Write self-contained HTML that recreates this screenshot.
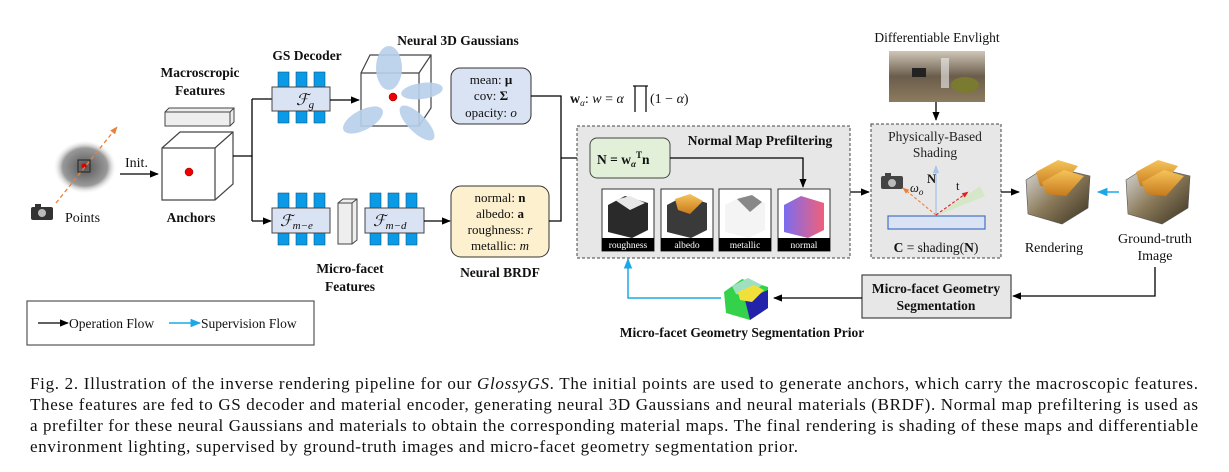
<!DOCTYPE html>
<html><head><meta charset="utf-8"><style>
html,body{margin:0;padding:0;background:#fff;}
svg{display:block;}
text{font-family:"Liberation Serif",serif;fill:#111;}
</style></head><body>
<svg width="1229" height="472" viewBox="0 0 1229 472" xmlns="http://www.w3.org/2000/svg">
<defs>
<marker id="ab" viewBox="0 0 10 10" refX="9" refY="5" markerWidth="7" markerHeight="7" orient="auto"><path d="M0,1 L10,5 L0,9 z" fill="#000"/></marker>
<marker id="abl" viewBox="0 0 10 10" refX="9" refY="5" markerWidth="7" markerHeight="7" orient="auto"><path d="M0,1 L10,5 L0,9 z" fill="#1ba8e8"/></marker>
<marker id="ao" viewBox="0 0 10 10" refX="9" refY="5" markerWidth="6" markerHeight="6" orient="auto"><path d="M0,1 L10,5 L0,9 z" fill="#e8823a"/></marker>
<marker id="ar" viewBox="0 0 10 10" refX="9" refY="5" markerWidth="6" markerHeight="6" orient="auto"><path d="M0,1 L10,5 L0,9 z" fill="#e02020"/></marker>
<marker id="alb" viewBox="0 0 10 10" refX="9" refY="5" markerWidth="6" markerHeight="6" orient="auto"><path d="M0,1 L10,5 L0,9 z" fill="#a9c4e8"/></marker>
<radialGradient id="cloud"><stop offset="0" stop-color="#555"/><stop offset="0.7" stop-color="#999"/><stop offset="1" stop-color="#fff" stop-opacity="0"/></radialGradient>
<linearGradient id="metal" x1="0" y1="0" x2="1" y2="1"><stop offset="0" stop-color="#ddd"/><stop offset="0.5" stop-color="#8a7a5a"/><stop offset="1" stop-color="#3a3020"/></linearGradient>
<linearGradient id="toast" x1="0" y1="0" x2="0" y2="1"><stop offset="0" stop-color="#f6c45a"/><stop offset="1" stop-color="#c77a1c"/></linearGradient>
<linearGradient id="env" x1="0" y1="0" x2="0" y2="1"><stop offset="0" stop-color="#cfc6b8"/><stop offset="0.5" stop-color="#6b5d4b"/><stop offset="1" stop-color="#8c7b5f"/></linearGradient>
<linearGradient id="nrm" x1="0" y1="0" x2="1" y2="0"><stop offset="0" stop-color="#7b6cf0"/><stop offset="1" stop-color="#f0607a"/></linearGradient>
</defs>

<!-- Points -->
<ellipse cx="85" cy="167" rx="32" ry="27" fill="url(#cloud)"/>
<rect x="78" y="160" width="12" height="12" fill="none" stroke="#222" stroke-width="1"/>
<circle cx="84" cy="166" r="2.5" fill="#d00"/>
<line x1="56" y1="203" x2="117" y2="127" stroke="#e8823a" stroke-width="1.3" stroke-dasharray="4,3" marker-end="url(#ao)"/>
<rect x="31" y="207" width="22" height="13" rx="2" fill="#333"/>
<rect x="35" y="204" width="6" height="4" fill="#333"/>
<circle cx="42" cy="213" r="4" fill="#bbb"/>
<text x="65" y="222" font-size="14">Points</text>
<text x="125" y="167" font-size="14">Init.</text>
<line x1="120" y1="174" x2="158" y2="174" stroke="#000" stroke-width="1.3" marker-end="url(#ab)"/>

<!-- Anchors -->
<text x="200" y="77" font-size="13.5" font-weight="bold" text-anchor="middle">Macroscropic</text>
<text x="200" y="95" font-size="13.5" font-weight="bold" text-anchor="middle">Features</text>
<polygon points="165,112 169,108 234,108 234,122 230,126 165,126" fill="#eee" stroke="#444"/>
<line x1="165" y1="112" x2="230" y2="112" stroke="#444"/><line x1="230" y1="112" x2="234" y2="108" stroke="#444"/><line x1="230" y1="112" x2="230" y2="126" stroke="#444"/>
<polygon points="162,148 180,132 233,132 233,184 215,200 162,200" fill="#fff" stroke="#444" stroke-width="1.2"/>
<polyline points="162,148 215,148 233,132" fill="none" stroke="#444" stroke-width="1.2"/>
<line x1="215" y1="148" x2="215" y2="200" stroke="#444" stroke-width="1.2"/>
<circle cx="189" cy="172" r="4" fill="#e00" stroke="#800" stroke-width="0.5"/>
<text x="191" y="222" font-size="13.5" font-weight="bold" text-anchor="middle">Anchors</text>

<!-- branch -->
<polyline points="233,156 252,156" fill="none" stroke="#000" stroke-width="1.3"/>
<polyline points="252,99 252,221" fill="none" stroke="#000" stroke-width="1.3"/>
<line x1="252" y1="99" x2="272" y2="99" stroke="#000" stroke-width="1.3"/>
<line x1="252" y1="221" x2="271" y2="221" stroke="#000" stroke-width="1.3" marker-end="url(#ab)"/>

<!-- GS decoder -->
<text x="307" y="60" font-size="13.5" font-weight="bold" text-anchor="middle">GS Decoder</text>
<g fill="#0a9ae6" stroke="#0b5a8a" stroke-width="0.6">
<rect x="278" y="72" width="11" height="51"/><rect x="296" y="72" width="11" height="51"/><rect x="314" y="72" width="11" height="51"/>
<rect x="278" y="193" width="11" height="52"/><rect x="296" y="193" width="11" height="52"/><rect x="314" y="193" width="11" height="52"/>
<rect x="370" y="193" width="11" height="52"/><rect x="388" y="193" width="11" height="52"/><rect x="406" y="193" width="11" height="52"/>
</g>
<rect x="272" y="87" width="58" height="24" fill="#dae3f3" stroke="#444"/>
<text x="296" y="105" font-size="16" font-style="italic">ℱ<tspan font-size="11" dy="3">g</tspan></text>
<rect x="272" y="208" width="58" height="25" fill="#dae3f3" stroke="#444"/>
<text x="280" y="226" font-size="16" font-style="italic">ℱ<tspan font-size="11" dy="3">m−e</tspan></text>
<polygon points="338,203 343,199 357,199 357,240 352,244 338,244" fill="#eee" stroke="#444"/>
<polyline points="338,203 352,203 357,199" fill="none" stroke="#444"/><line x1="352" y1="203" x2="352" y2="244" stroke="#444"/>
<rect x="365" y="208" width="59" height="25" fill="#dae3f3" stroke="#444"/>
<text x="373" y="226" font-size="16" font-style="italic">ℱ<tspan font-size="11" dy="3">m−d</tspan></text>
<text x="350" y="273" font-size="13.5" font-weight="bold" text-anchor="middle">Micro-facet</text>
<text x="350" y="291" font-size="13.5" font-weight="bold" text-anchor="middle">Features</text>
<line x1="330" y1="100" x2="359" y2="100" stroke="#000" stroke-width="1.3" marker-end="url(#ab)"/>
<line x1="424" y1="221" x2="450" y2="221" stroke="#000" stroke-width="1.3" marker-end="url(#ab)"/>

<!-- Gaussians cube -->
<text x="458" y="45" font-size="13.5" font-weight="bold" text-anchor="middle">Neural 3D Gaussians</text>
<polygon points="361,73 370,55 431,55 431,108 419,126 361,126" fill="#fff" stroke="#444" stroke-width="1.2"/>
<polyline points="361,73 419,73 431,55" fill="none" stroke="#444" stroke-width="1.2"/>
<line x1="419" y1="73" x2="419" y2="126" stroke="#444" stroke-width="1.2"/>
<g fill="#b7d0ea" opacity="0.9">
<ellipse cx="389" cy="68" rx="13" ry="22"/>
<ellipse cx="422" cy="91" rx="21" ry="8" transform="rotate(-8 422 91)"/>
<ellipse cx="363" cy="120" rx="22" ry="10" transform="rotate(-28 363 120)"/>
<ellipse cx="417" cy="123" rx="23" ry="9" transform="rotate(45 417 123)"/>
</g>
<circle cx="393" cy="97" r="4" fill="#e00" stroke="#800" stroke-width="0.5"/>

<!-- attr boxes -->
<rect x="451" y="68" width="80" height="56" rx="9" fill="#dae3f3" stroke="#333"/>
<text x="491" y="84" font-size="13" text-anchor="middle">mean: <tspan font-weight="bold">μ</tspan></text>
<text x="491" y="100" font-size="13" text-anchor="middle">cov: <tspan font-weight="bold">Σ</tspan></text>
<text x="491" y="117" font-size="13" text-anchor="middle">opacity: <tspan font-style="italic">o</tspan></text>
<rect x="451" y="186" width="98" height="71" rx="10" fill="#fdf0cf" stroke="#333"/>
<text x="500" y="202" font-size="13" text-anchor="middle">normal: <tspan font-weight="bold">n</tspan></text>
<text x="500" y="218" font-size="13" text-anchor="middle">albedo: <tspan font-weight="bold">a</tspan></text>
<text x="500" y="234" font-size="13" text-anchor="middle">roughness: <tspan font-style="italic">r</tspan></text>
<text x="500" y="250" font-size="13" text-anchor="middle">metallic: <tspan font-style="italic">m</tspan></text>
<text x="500" y="277" font-size="13.5" font-weight="bold" text-anchor="middle">Neural BRDF</text>
<polyline points="531,96 561,96 561,221 549,221" fill="none" stroke="#000" stroke-width="1.3"/>
<line x1="561" y1="158" x2="589" y2="158" stroke="#000" stroke-width="1.3" marker-end="url(#ab)"/>
<text x="570" y="103" font-size="14"><tspan font-weight="bold">w</tspan><tspan font-size="9" dy="3" font-style="italic">α</tspan><tspan dy="-3">: </tspan><tspan font-style="italic">w</tspan> = <tspan font-style="italic">α</tspan></text>
<path d="M635,86 L635,112 M646,86 L646,112 M633,86 L648,86" stroke="#111" stroke-width="1.3" fill="none"/>
<text x="650" y="103" font-size="14">(1 − <tspan font-style="italic">α</tspan>)</text>

<!-- Normal map prefiltering -->
<rect x="577" y="126" width="273" height="132" fill="#e7e7e7" stroke="#444" stroke-dasharray="3,2"/>
<rect x="590" y="138" width="80" height="40" rx="7" fill="#e2f0d9" stroke="#444"/>
<text x="597" y="164" font-size="13.5" font-weight="bold">N = w<tspan font-size="9" dy="3" font-style="italic">α</tspan><tspan font-size="9" dy="-9">T</tspan><tspan dy="6">n</tspan></text>
<text x="760" y="145" font-size="13.5" font-weight="bold" text-anchor="middle">Normal Map Prefiltering</text>
<polyline points="670,158 803,158 803,187" fill="none" stroke="#000" stroke-width="1.3" marker-end="url(#ab)"/>
<g stroke="#333">
<rect x="602" y="189" width="52" height="62" fill="#fff"/>
<rect x="661" y="189" width="52" height="62" fill="#fff"/>
<rect x="719" y="189" width="52" height="62" fill="#fff"/>
<rect x="778" y="189" width="52" height="62" fill="#fff"/>
</g>
<polygon points="608,205 625,196 648,203 648,230 632,238 608,232" fill="#2a2a2a"/>
<polygon points="615,200 630,196 645,203 630,210" fill="#e8e8e8"/>
<polygon points="667,205 684,196 707,203 707,230 691,238 667,232" fill="#3a3a3a"/>
<polygon points="675,199 690,194 703,201 690,214 678,210" fill="url(#toast)"/>
<polygon points="725,205 742,196 765,203 765,230 749,238 725,232" fill="#f4f4f4"/>
<polygon points="737,199 752,195 762,202 750,212" fill="#888"/>
<polygon points="784,205 801,196 824,203 824,230 808,238 784,232" fill="url(#nrm)"/>
<g fill="#000"><rect x="602" y="238" width="52" height="13"/><rect x="661" y="238" width="52" height="13"/><rect x="719" y="238" width="52" height="13"/><rect x="778" y="238" width="52" height="13"/></g>
<g font-size="9.5" text-anchor="middle"><text x="628" y="248" style="fill:#fff">roughness</text><text x="687" y="248" style="fill:#fff">albedo</text><text x="745" y="248" style="fill:#fff">metallic</text><text x="804" y="248" style="fill:#fff">normal</text></g>
<line x1="850" y1="192" x2="869" y2="192" stroke="#000" stroke-width="1.3" marker-end="url(#ab)"/>

<!-- Env light -->
<text x="937" y="42" font-size="13.5" text-anchor="middle">Differentiable Envlight</text>
<rect x="889" y="51" width="96" height="51" fill="url(#env)"/>
<rect x="912" y="68" width="14" height="9" fill="#222"/><ellipse cx="965" cy="85" rx="14" ry="8" fill="#7a7a30"/><rect x="941" y="58" width="8" height="30" fill="#eee" opacity="0.6"/>
<line x1="936" y1="102" x2="936" y2="120" stroke="#000" stroke-width="1.3" marker-end="url(#ab)"/>

<!-- PBS -->
<rect x="871" y="124" width="130" height="134" fill="#e7e7e7" stroke="#444" stroke-dasharray="3,2"/>
<text x="935" y="141" font-size="13.5" text-anchor="middle" style="fill:#222">Physically-Based</text>
<text x="935" y="157" font-size="13.5" text-anchor="middle" style="fill:#222">Shading</text>
<polygon points="936,216 980,186 985,196" fill="#cfe8c0" opacity="0.8"/>
<line x1="936" y1="215" x2="936" y2="166" stroke="#a9c4e8" stroke-width="1.3" marker-end="url(#alb)"/>
<line x1="936" y1="215" x2="903" y2="188" stroke="#e8823a" stroke-width="1.1" stroke-dasharray="3,2" marker-end="url(#ao)"/>
<line x1="936" y1="215" x2="968" y2="192" stroke="#e02020" stroke-width="1.1" stroke-dasharray="3,2" marker-end="url(#ar)"/>
<rect x="881" y="176" width="22" height="13" rx="2" fill="#444"/><rect x="885" y="173" width="6" height="4" fill="#444"/><circle cx="892" cy="183" r="4" fill="#bbb"/>
<text x="910" y="192" font-size="12.5" font-style="italic">ω<tspan font-size="9" dy="3">o</tspan></text>
<text x="927" y="183" font-size="12.5" font-weight="bold">N</text>
<text x="956" y="190" font-size="12.5">t</text>
<rect x="888" y="216" width="97" height="13" fill="#dae3f3" stroke="#4472c4" stroke-width="1.2"/>
<text x="936" y="252" font-size="13.5" text-anchor="middle"><tspan font-weight="bold">C</tspan> = shading(<tspan font-weight="bold">N</tspan>)</text>
<line x1="1001" y1="192" x2="1019" y2="192" stroke="#000" stroke-width="1.3" marker-end="url(#ab)"/>

<!-- Toasters -->
<g>
<polygon points="1026,180 1048,166 1090,176 1088,208 1062,224 1028,214" fill="url(#metal)" stroke="#555" stroke-width="0.6"/>
<polygon points="1036,172 1058,160 1078,166 1060,188 1040,186" fill="url(#toast)"/>
<polygon points="1042,182 1064,170 1084,176 1066,196 1046,194" fill="url(#toast)"/>
</g>
<g transform="translate(100,0)">
<polygon points="1026,180 1048,166 1090,176 1088,208 1062,224 1028,214" fill="url(#metal)" stroke="#555" stroke-width="0.6"/>
<polygon points="1036,172 1058,160 1078,166 1060,188 1040,186" fill="url(#toast)"/>
<polygon points="1042,182 1064,170 1084,176 1066,196 1046,194" fill="url(#toast)"/>
</g>
<line x1="1119" y1="192" x2="1098" y2="192" stroke="#1ba8e8" stroke-width="1.5" marker-end="url(#abl)"/>
<text x="1054" y="252" font-size="14" text-anchor="middle">Rendering</text>
<text x="1155" y="243" font-size="14" text-anchor="middle">Ground-truth</text>
<text x="1155" y="260" font-size="14" text-anchor="middle">Image</text>
<polyline points="1155,267 1155,296 1013,296" fill="none" stroke="#000" stroke-width="1.3" marker-end="url(#ab)"/>

<!-- segmentation -->
<rect x="862" y="275" width="149" height="43" fill="#e7e7e7" stroke="#444" stroke-width="1.2"/>
<text x="936" y="293" font-size="13.5" font-weight="bold" text-anchor="middle">Micro-facet Geometry</text>
<text x="936" y="310" font-size="13.5" font-weight="bold" text-anchor="middle">Segmentation</text>
<line x1="862" y1="298" x2="774" y2="298" stroke="#000" stroke-width="1.3" marker-end="url(#ab)"/>
<polygon points="724,292 742,279 768,287 768,308 750,320 726,313" fill="#33d24a"/>
<polygon points="745,300 768,290 768,308 750,320" fill="#2222aa"/>
<polygon points="732,286 748,278 762,285 748,296 736,294" fill="#9fe0c0"/>
<polygon points="738,292 754,285 764,290 752,302 740,300" fill="#f2e03a"/>
<polyline points="721,298 628,298 628,259" fill="none" stroke="#1ba8e8" stroke-width="1.5" marker-end="url(#abl)"/>
<text x="742" y="337" font-size="13.5" font-weight="bold" text-anchor="middle">Micro-facet Geometry Segmentation Prior</text>

<!-- legend -->
<rect x="27" y="301" width="287" height="44" fill="#fff" stroke="#555" stroke-width="1.2"/>
<line x1="38" y1="323" x2="68" y2="323" stroke="#000" stroke-width="1.3" marker-end="url(#ab)"/>
<text x="69" y="328" font-size="13.5">Operation Flow</text>
<line x1="169" y1="323" x2="200" y2="323" stroke="#1ba8e8" stroke-width="1.5" marker-end="url(#abl)"/>
<text x="201" y="328" font-size="13.5">Supervision Flow</text>

<!-- caption -->
<g font-size="17">
<text x="30" y="389" textLength="1168" lengthAdjust="spacing">Fig. 2.  Illustration of the inverse rendering pipeline for our <tspan font-style="italic">GlossyGS</tspan>. The initial points are used to generate anchors, which carry the macroscopic features.</text>
<text x="30" y="410" textLength="1168" lengthAdjust="spacing">These features are fed to GS decoder and material encoder, generating neural 3D Gaussians and neural materials (BRDF). Normal map prefiltering is used as</text>
<text x="30" y="431" textLength="1168" lengthAdjust="spacing">a prefilter for these neural Gaussians and materials to obtain the corresponding material maps. The final rendering is shading of these maps and differentiable</text>
<text x="30" y="452" textLength="768" lengthAdjust="spacing">environment lighting, supervised by ground-truth images and micro-facet geometry segmentation prior.</text>
</g>
</svg>
</body></html>
